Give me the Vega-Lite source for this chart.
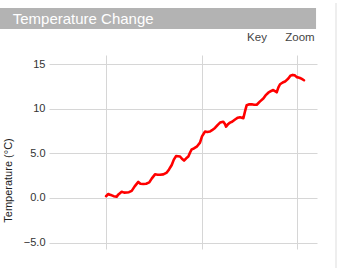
{
  "$schema": "https://vega.github.io/schema/vega-lite/v6.json",
  "width": 268,
  "height": 194,
  "autosize": {"type": "none"},
  "padding": {"left": 49, "top": 55, "right": 27, "bottom": 19},
  "background": "white",
  "config": {
    "view": {"stroke": null},
    "font": "Liberation Sans"
  },
  "data": {
    "values": [
      {"year": 2000, "temp": 0.2}, {"year": 2002.4, "temp": 0.45}, {"year": 2004, "temp": 0.35},
      {"year": 2006, "temp": 0.3}, {"year": 2008, "temp": 0.2}, {"year": 2011.2, "temp": 0.15},
      {"year": 2013, "temp": 0.4}, {"year": 2016.4, "temp": 0.7}, {"year": 2019, "temp": 0.6},
      {"year": 2021.7, "temp": 0.62}, {"year": 2024, "temp": 0.65}, {"year": 2026.9, "temp": 0.8},
      {"year": 2030, "temp": 1.3}, {"year": 2033.8, "temp": 1.8}, {"year": 2036, "temp": 1.6},
      {"year": 2039.1, "temp": 1.57}, {"year": 2042, "temp": 1.6}, {"year": 2045.3, "temp": 1.75},
      {"year": 2048, "temp": 2.2}, {"year": 2051.3, "temp": 2.65}, {"year": 2054, "temp": 2.6},
      {"year": 2056.5, "temp": 2.6}, {"year": 2060, "temp": 2.65}, {"year": 2063.6, "temp": 2.85},
      {"year": 2066, "temp": 3.2}, {"year": 2068.8, "temp": 3.7}, {"year": 2071, "temp": 4.3},
      {"year": 2073.3, "temp": 4.7}, {"year": 2077.5, "temp": 4.65}, {"year": 2079.5, "temp": 4.4},
      {"year": 2081.7, "temp": 4.2}, {"year": 2084, "temp": 4.45}, {"year": 2086.2, "temp": 4.65},
      {"year": 2088, "temp": 5.1}, {"year": 2089.7, "temp": 5.45}, {"year": 2092, "temp": 5.55},
      {"year": 2095, "temp": 5.75}, {"year": 2098.4, "temp": 6.2}, {"year": 2100.5, "temp": 6.9},
      {"year": 2103.7, "temp": 7.45}, {"year": 2106, "temp": 7.4}, {"year": 2108.9, "temp": 7.45},
      {"year": 2111, "temp": 7.6}, {"year": 2114.1, "temp": 7.85}, {"year": 2117, "temp": 8.2},
      {"year": 2119.4, "temp": 8.45}, {"year": 2122.8, "temp": 8.55}, {"year": 2124.5, "temp": 8.3},
      {"year": 2125.7, "temp": 8.0}, {"year": 2128, "temp": 8.3}, {"year": 2129.8, "temp": 8.45},
      {"year": 2132, "temp": 8.55}, {"year": 2135.1, "temp": 8.8}, {"year": 2138, "temp": 9.0},
      {"year": 2140.3, "temp": 9.05}, {"year": 2143.8, "temp": 8.95}, {"year": 2145.5, "temp": 9.7},
      {"year": 2147.3, "temp": 10.4}, {"year": 2150, "temp": 10.5}, {"year": 2152.6, "temp": 10.5},
      {"year": 2155, "temp": 10.45}, {"year": 2157.8, "temp": 10.45}, {"year": 2161, "temp": 10.8},
      {"year": 2164.7, "temp": 11.15}, {"year": 2167, "temp": 11.5}, {"year": 2169.9, "temp": 11.8},
      {"year": 2173, "temp": 12.0}, {"year": 2175.1, "temp": 12.1}, {"year": 2178.7, "temp": 11.85},
      {"year": 2180.5, "temp": 12.4}, {"year": 2182.2, "temp": 12.75}, {"year": 2185, "temp": 12.95},
      {"year": 2187.4, "temp": 13.05}, {"year": 2190.9, "temp": 13.4}, {"year": 2193, "temp": 13.7},
      {"year": 2195.5, "temp": 13.8}, {"year": 2197.5, "temp": 13.75}, {"year": 2199.7, "temp": 13.55},
      {"year": 2201.5, "temp": 13.5}, {"year": 2203.1, "temp": 13.45}, {"year": 2205, "temp": 13.35},
      {"year": 2207.3, "temp": 13.2}
    ]
  },
  "encoding": {
    "x": {
      "field": "year", "type": "quantitative",
      "scale": {"domain": [1940.3, 2220.9], "nice": false, "zero": false},
      "axis": {"values": [2000, 2100, 2200], "labels": false, "ticks": false, "domain": false, "title": null, "grid": true, "gridColor": "#d6d6d6", "gridWidth": 1}
    },
    "y": {
      "field": "temp", "type": "quantitative",
      "scale": {"domain": [-5.72, 16.03], "nice": false, "zero": false},
      "axis": {
        "values": [-5, 0, 5, 10, 15],
        "labelExpr": "abs(datum.value) >= 10 ? format(datum.value, 'd') : format(datum.value, '.1f')",
        "ticks": false, "domain": false, "grid": true, "gridColor": "#d6d6d6", "gridWidth": 1,
        "labelPadding": 4, "labelFontSize": 11, "labelColor": "#333333",
        "title": "Temperature (°C)", "titleFontSize": 11, "titleFontWeight": "normal", "titleColor": "#222222",
        "titleX": -41, "titleY": 125, "titleAlign": "center", "titleBaseline": "middle", "titleAngle": -90
      }
    }
  },
  "layer": [
    {
      "transform": [{"filter": "datum.year == 2000"}],
      "mark": {"type": "rect", "fill": "#b3b3b3", "strokeWidth": 0, "clip": false},
      "encoding": {
        "x": {"datum": 1888.6}, "x2": {"datum": 2219.9},
        "y": {"datum": 21.3}, "y2": {"datum": 18.95}
      }
    },
    {
      "transform": [{"filter": "datum.year == 2000"}],
      "mark": {"type": "text", "text": "Temperature Change", "fill": "#ffffff", "fontSize": 15, "align": "left", "baseline": "middle", "clip": false},
      "encoding": {"x": {"datum": 1902.3}, "y": {"datum": 20.1}}
    },
    {
      "transform": [{"filter": "datum.year == 2000"}],
      "mark": {"type": "text", "text": "Key", "fill": "#444444", "fontSize": 11.5, "align": "center", "baseline": "middle", "clip": false},
      "encoding": {"x": {"datum": 2158.1}, "y": {"datum": 17.94}}
    },
    {
      "transform": [{"filter": "datum.year == 2000"}],
      "mark": {"type": "text", "text": "Zoom", "fill": "#444444", "fontSize": 11.5, "align": "center", "baseline": "middle", "clip": false},
      "encoding": {"x": {"datum": 2203.1}, "y": {"datum": 17.94}}
    },
    {
      "transform": [{"filter": "datum.year == 2000"}],
      "mark": {"type": "rule", "color": "#dddddd", "strokeWidth": 1, "clip": false},
      "encoding": {"x": {"datum": 2240.8}, "y": {"datum": 21.86}, "y2": {"datum": -7.85}}
    },
    {
      "transform": [{"filter": "datum.year == 2000"}],
      "mark": {"type": "rule", "color": "#8a8a8a", "strokeWidth": 1.5},
      "encoding": {"y": {"datum": 0}}
    },
    {
      "mark": {"type": "line", "color": "#ff0000", "strokeWidth": 2.6, "strokeJoin": "round", "strokeCap": "round"}
    }
  ]
}
